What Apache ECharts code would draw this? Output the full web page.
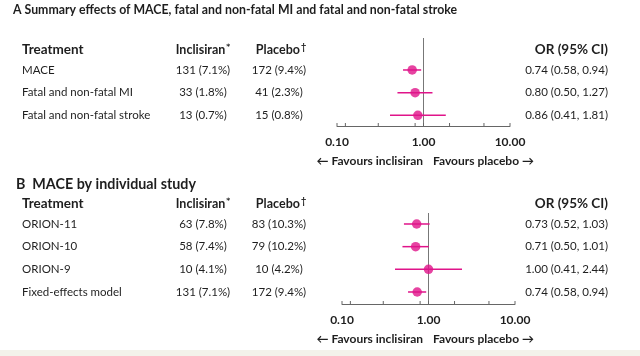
<!DOCTYPE html>
<html><head><meta charset="utf-8">
<script src="https://cdn.jsdelivr.net/npm/echarts@6/dist/echarts.min.js"></script>
<style>html,body{margin:0;padding:0;background:#fff}#c{width:640px;height:356px}</style>
</head><body><div id="c"></div>
<script>
// ---- Data ----
const titleA = 'A Summary effects of MACE, fatal and non-fatal MI and fatal and non-fatal stroke';
const titleB = 'B  MACE by individual study';
const treatmentsA = ['MACE', 'Fatal and non-fatal MI', 'Fatal and non-fatal stroke'];
const inclisiranA = ['131 (7.1%)', '33 (1.8%)', '13 (0.7%)'];
const placeboA = ['172 (9.4%)', '41 (2.3%)', '15 (0.8%)'];
const orA = [0.74, 0.80, 0.86];
const loA = [0.58, 0.50, 0.41];
const hiA = [0.94, 1.27, 1.81];

const studiesB = ['ORION-11', 'ORION-10', 'ORION-9', 'Fixed-effects model'];
const inclisiranB = ['63 (7.8%)', '58 (7.4%)', '10 (4.1%)', '131 (7.1%)'];
const placeboB = ['83 (10.3%)', '79 (10.2%)', '10 (4.2%)', '172 (9.4%)'];
const orB = [0.73, 0.71, 1.00, 0.74];
const loB = [0.52, 0.50, 0.41, 0.58];
const hiB = [1.03, 1.01, 2.44, 0.94];

const tickValues = [0.1, 0.125, 0.3, 0.8, 1, 2, 5, 10];
const tickLabels = [0.1, 1, 10];
const refValue = 1;
const favourLeft = '\u2190 Favours inclisiran';
const favourRight = 'Favours placebo \u2192';

// ---- Style ----
const FONT = 'Lato';
const TXT = '#1e1e1e';
const MAG = '#e0148a';
const AXC = '#666';
const BODY = 11.5;

const chart = echarts.init(document.getElementById('c'), null, {renderer: 'canvas'});

const yRange = [[-1.41, 2.47], [-0.485, 3.53]];

function xAxisCfg(gi) {
  return {
    type: 'log', logBase: 10, min: 0.1, max: 10, gridIndex: gi, position: 'bottom',
    axisLine: {show: true, onZero: false, lineStyle: {color: AXC, width: 1}},
    axisTick: {show: false}, splitLine: {show: false}, minorTick: {show: false},
    axisLabel: {
      margin: 10, fontFamily: FONT, fontWeight: 'bold', fontSize: 12, color: TXT,
      formatter: v => tickLabels.some(t => Math.abs(t - v) < 1e-9) ? Number(v).toFixed(2) : ''
    }
  };
}
function yAxisCfg(gi) {
  return {type: 'value', gridIndex: gi, inverse: true, min: yRange[gi][0], max: yRange[gi][1], show: false};
}
function ciSeries(gi, lo, hi) {
  return {
    type: 'custom', xAxisIndex: gi, yAxisIndex: gi, silent: true, clip: false,
    encode: {x: [0, 2], y: 1},
    data: lo.map((l, i) => [l, i, hi[i]]),
    renderItem: (params, api) => {
      const a = api.coord([api.value(0), api.value(1)]);
      const b = api.coord([api.value(2), api.value(1)]);
      return {type: 'line', shape: {x1: a[0], y1: a[1], x2: b[0], y2: b[1]}, style: {stroke: MAG, lineWidth: 1.5}};
    }
  };
}
function tickSeries(gi) {
  return {
    type: 'custom', xAxisIndex: gi, yAxisIndex: gi, silent: true, clip: false,
    encode: {x: 0, y: 1},
    data: tickValues.map(v => [v, yRange[gi][1]]),
    renderItem: (params, api) => {
      const p = api.coord([api.value(0), api.value(1)]);
      return {type: 'line', shape: {x1: p[0], y1: p[1], x2: p[0], y2: p[1] - 3}, style: {stroke: AXC, lineWidth: 1}};
    }
  };
}
function refSeries(gi) {
  return {
    type: 'custom', xAxisIndex: gi, yAxisIndex: gi, silent: true, clip: false,
    encode: {x: 0, y: [1, 2]},
    data: [[refValue, yRange[gi][0], yRange[gi][1]]],
    renderItem: (params, api) => {
      const a = api.coord([api.value(0), api.value(1)]);
      const b = api.coord([api.value(0), api.value(2)]);
      return {type: 'line', shape: {x1: a[0], y1: a[1], x2: b[0], y2: b[1]}, style: {stroke: '#777', lineWidth: 1}};
    }
  };
}
function pointSeries(gi, or) {
  return {
    type: 'scatter', xAxisIndex: gi, yAxisIndex: gi, silent: true,
    symbol: 'circle', symbolSize: 9.5, itemStyle: {color: MAG},
    data: or.map((v, i) => [v, i]), z: 5
  };
}

chart.setOption({
  animation: false,
  grid: [
    {left: 337, right: 130, top: 38, bottom: 230},
    {left: 342, right: 125, top: 213, bottom: 52}
  ],
  xAxis: [xAxisCfg(0), xAxisCfg(1)],
  yAxis: [yAxisCfg(0), yAxisCfg(1)],
  series: [
    refSeries(0), ciSeries(0, loA, hiA), pointSeries(0, orA), tickSeries(0),
    refSeries(1), ciSeries(1, loB, hiB), pointSeries(1, orB), tickSeries(1)
  ]
});

// ---- Table text ----
const g = [];
function txt(x, y, s, opts) {
  g.push({type: 'text', x: x, y: y, silent: true,
    style: Object.assign({text: s, fontFamily: FONT, fontSize: BODY, fill: TXT, verticalAlign: 'middle', align: 'left'}, opts || {})});
}
const rich = {
  b: {fontFamily: FONT, fontWeight: 'bold', fontSize: 12.5, fill: TXT},
  ast: {fontFamily: 'DejaVu Sans', fontWeight: 'bold', fontSize: 7.5, fill: TXT, verticalAlign: 'top', padding: [0, 0, 4, 1]},
  sup: {fontFamily: FONT, fontWeight: 'bold', fontSize: 9, fill: TXT, verticalAlign: 'top', padding: [0, 0, 5, 1]}
};
function orText(o, l, h) { return o.toFixed(2) + ' (' + l.toFixed(2) + ', ' + h.toFixed(2) + ')'; }

function panel(gi, title, titleSize, titleX, titleY, headerY, names, inc, pla, or, lo, hi) {
  txt(titleX, titleY, title, {fontWeight: 'bold', fontSize: titleSize});
  txt(22, headerY, 'Treatment', {fontWeight: 'bold', fontSize: 13.5});
  txt(203, headerY, '{b|Inclisiran}{ast|*}', {align: 'center', rich: rich});
  txt(281, headerY, '{b|Placebo}{sup|\u2020}', {align: 'center', rich: rich});
  txt(608, headerY, 'OR (95% CI)', {fontWeight: 'bold', fontSize: 13.5, align: 'right'});
  names.forEach((n, i) => {
    const y = chart.convertToPixel({gridIndex: gi}, [1, i])[1];
    txt(22, y, n);
    txt(203, y, inc[i], {align: 'center'});
    txt(279, y, pla[i], {align: 'center'});
    txt(608, y, orText(or[i], lo[i], hi[i]), {align: 'right'});
  });
  const axY = chart.convertToPixel({gridIndex: gi}, [1, yRange[gi][1]])[1];
  txt(423, axY + 35, favourLeft, {fontWeight: 'bold', fontSize: 12, align: 'right'});
  txt(433, axY + 35, favourRight, {fontWeight: 'bold', fontSize: 12, align: 'left'});
}
panel(0, titleA, 12.3, 13, 10, 50, treatmentsA, inclisiranA, placeboA, orA, loA, hiA);
panel(1, titleB, 14.3, 16, 184, 204, studiesB, inclisiranB, placeboB, orB, loB, hiB);
g.push({type: 'rect', silent: true, shape: {x: 0, y: 350, width: 640, height: 6}, style: {fill: '#f3f2ea'}});
chart.setOption({graphic: g});
</script>
</body></html>
